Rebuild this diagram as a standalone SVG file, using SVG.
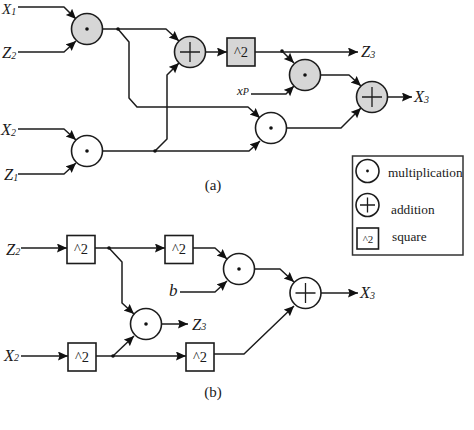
<svg xmlns="http://www.w3.org/2000/svg" width="474" height="430" viewBox="0 0 474 430">
<style>
.w{fill:none;stroke:#1c1c1c;stroke-width:1.5;stroke-linejoin:round}
.a{marker-end:url(#ah)}
.n{fill:#fff;stroke:#1c1c1c;stroke-width:1.6}
.g{fill:#d6d6d6}
.s{fill:none;stroke:#1c1c1c;stroke-width:1.3}
.d{fill:#111}
text{font-family:"Liberation Serif","Times New Roman",serif;fill:#1a1a1a}
.v{font-size:16.5px;font-style:italic}
.sub{font-size:10px}
.b{font-size:14.5px;text-anchor:middle}
.l{font-size:13.3px}
.c{font-size:15px;text-anchor:middle}
</style>
<defs>
<marker id="ah" markerUnits="userSpaceOnUse" markerWidth="12" markerHeight="10" refX="10" refY="4.5" orient="auto"><path d="M0 0L10 4.5L0 9L1.500 4.500Z" fill="#111"/></marker>
</defs>
<g id="connectors">
<path class="w a" d="M18 7H64L76 19"/>
<path class="w a" d="M18 52H64L76 41"/>
<path class="w a" d="M18 129H64L76 140"/>
<path class="w a" d="M18 174H64L76 163"/>
<path class="w a" d="M103 29H166L179 41"/>
<path class="w a" d="M118 29L129 42V98L137 107H248L260 118"/>
<path class="w a" d="M103 151H249L260 141"/>
<path class="w a" d="M155 151L167 139V75L179 63"/>
<path class="w a" d="M206 52H227"/>
<path class="w a" d="M255 52H358"/>
<path class="w a" d="M282 51L294 63"/>
<path class="w a" d="M251 94H286L294 86"/>
<path class="w a" d="M321 75H349L361 86"/>
<path class="w a" d="M287 128H341L361 108"/>
<path class="w a" d="M388 97H412"/>
<path class="w a" d="M21 248H67"/>
<path class="w a" d="M95 248H165"/>
<path class="w a" d="M109 248L122 262V303L134 314"/>
<path class="w a" d="M161 324H188"/>
<path class="w a" d="M21 356H68"/>
<path class="w a" d="M96 356H186"/>
<path class="w a" d="M113 356L134 336"/>
<path class="w a" d="M193 248H215L227 259"/>
<path class="w a" d="M180 292H215L227 281"/>
<path class="w a" d="M214 354H244L294 306"/>
<path class="w a" d="M254 269H280L294 282"/>
<path class="w a" d="M321 293H358"/>
<circle class="d" cx="118" cy="29" r="1.800"/>
<circle class="d" cx="155" cy="151" r="1.800"/>
<circle class="d" cx="282" cy="51" r="1.800"/>
<circle class="d" cx="109" cy="248" r="1.800"/>
<circle class="d" cx="113" cy="356" r="1.800"/>
</g>
<g id="m1"><circle class="n g" cx="87" cy="29" r="15.500"/><circle class="d" cx="87" cy="29" r="1.800"/></g>
<g id="m2"><circle class="n" cx="87" cy="151" r="15.500"/><circle class="d" cx="87" cy="151" r="1.800"/></g>
<g id="p1"><circle class="n g" cx="190" cy="52" r="15.500"/><path class="s" d="M180 52H200M190 42V62"/></g>
<g id="sq1"><rect class="n g" x="227" y="38" width="28" height="28"/><text class="b" x="241" y="57">^2</text></g>
<g id="m3"><circle class="n g" cx="305" cy="75" r="15.500"/><circle class="d" cx="305" cy="75" r="1.800"/></g>
<g id="m4"><circle class="n" cx="271" cy="128" r="15.500"/><circle class="d" cx="271" cy="128" r="1.800"/></g>
<g id="p2"><circle class="n g" cx="372" cy="97" r="15.500"/><path class="s" d="M362 97H382M372 87V107"/></g>
<g id="sq2"><rect class="n" x="67" y="235.500" width="28" height="28"/><text class="b" x="81" y="254">^2</text></g>
<g id="sq3"><rect class="n" x="165" y="235.500" width="28" height="28"/><text class="b" x="179" y="254">^2</text></g>
<g id="sq4"><rect class="n" x="68" y="343" width="28" height="28"/><text class="b" x="82" y="362">^2</text></g>
<g id="sq5"><rect class="n" x="186" y="343" width="28" height="28"/><text class="b" x="200" y="362">^2</text></g>
<g id="m5"><circle class="n" cx="146" cy="324" r="15.500"/><circle class="d" cx="146" cy="324" r="1.800"/></g>
<g id="m6"><circle class="n" cx="239" cy="269" r="15.500"/><circle class="d" cx="239" cy="269" r="1.800"/></g>
<g id="p3"><circle class="n" cx="305.500" cy="293" r="15.500"/><path class="s" d="M295.500 293H315.500M305.500 283V303"/></g>
<g id="legend">
<rect x="352.500" y="156" width="110.500" height="99" fill="#fff" stroke="#333" stroke-width="1.500"/>
<circle class="n" cx="367.500" cy="171" r="11.500"/><circle class="d" cx="367.500" cy="171" r="1.400"/>
<circle class="n" cx="367.500" cy="205" r="11.500"/><path class="s" d="M360 205H375M367.500 197.500V212.500"/>
<rect class="n" x="357" y="228" width="21.500" height="21"/><text x="368" y="243" font-size="11" text-anchor="middle">^2</text>
<text class="l" x="388" y="177">multiplication</text>
<text class="l" x="391" y="214">addition</text>
<text class="l" x="392" y="241">square</text>
</g>
<g id="labels">
<text class="v" x="2" y="14" style="font-size:15px">X<tspan class="sub" dy="1">1</tspan></text>
<text class="v" x="2" y="58">Z<tspan class="sub" dy="1">2</tspan></text>
<text class="v" x="1" y="135">X<tspan class="sub" dy="1">2</tspan></text>
<text class="v" x="4" y="180">Z<tspan class="sub" dy="1">1</tspan></text>
<text class="v" x="361" y="57">Z<tspan class="sub" dy="1">3</tspan></text>
<text class="v" x="237" y="95" style="font-size:13px">x<tspan class="sub" dy="0">P</tspan></text>
<text class="v" x="414" y="102">X<tspan class="sub" dy="1">3</tspan></text>
<text class="c" x="213" y="190">(a)</text>
<text class="v" x="6" y="255">Z<tspan class="sub" dy="0">2</tspan></text>
<text class="v" x="4" y="361">X<tspan class="sub" dy="0">2</tspan></text>
<text class="v" x="169" y="296" style="font-size:17px">b</text>
<text class="v" x="192" y="330">Z<tspan class="sub" dy="0">3</tspan></text>
<text class="v" x="360" y="298">X<tspan class="sub" dy="1">3</tspan></text>
<text class="c" x="213" y="397">(b)</text>
</g>
</svg>
